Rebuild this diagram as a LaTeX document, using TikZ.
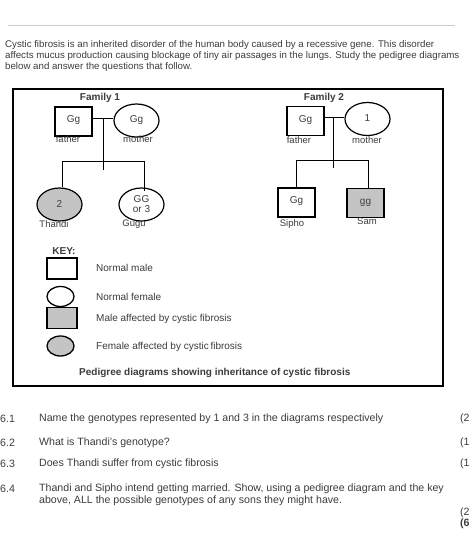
\documentclass[tikz,border=0pt]{standalone}
\usepackage{fontspec}
\setmainfont{Liberation Sans}
\usetikzlibrary{shapes.geometric}
\definecolor{txt}{HTML}{3C3C3C}
\definecolor{aff}{HTML}{C4C4C4}
\tikzset{
  male/.style={draw=black, line width=1.2pt, rectangle, minimum width=37pt, minimum height=29pt, inner sep=0pt, font=\fontsize{10}{11}\selectfont, text=txt},
  female/.style={draw=black, line width=1.2pt, ellipse, minimum width=45pt, minimum height=33pt, inner sep=0pt, font=\fontsize{10}{11}\selectfont, text=txt, align=center},
  keymale/.style={draw=black, line width=1.3pt, rectangle, minimum width=30pt, minimum height=21pt, inner sep=0pt},
  keyfemale/.style={draw=black, line width=1.3pt, ellipse, minimum width=27pt, minimum height=20pt, inner sep=0pt},
  affected/.style={fill=aff},
  link/.style={draw=black, line width=0.9pt},
  lbl/.style={font=\fontsize{9.5}{10}\selectfont, text=txt, inner sep=0pt},
  keytxt/.style={font=\fontsize{10}{11}\selectfont, text=txt, inner sep=0pt, anchor=west},
  para/.style={font=\fontsize{9.7}{11}\selectfont, text=txt, inner sep=0pt, anchor=west},
  qtxt/.style={font=\fontsize{10.6}{12}\selectfont, text=txt, inner sep=0pt, anchor=west},
  head/.style={font=\bfseries\fontsize{10}{11}\selectfont, text=txt, inner sep=0pt}
}
\begin{document}
\begin{tikzpicture}[x=1pt,y=-1pt]
\useasboundingbox[fill=white] (0,0) rectangle (474,549);
% top rule
\draw[line width=0.8pt, black!20] (8,25) -- (455,25);
% intro paragraph
\node[para] (p1) at (5,45) {Cystic fibrosis is an inherited disorder of the human body caused by a recessive gene. This disorder};
\node[para] (p2) at (5,56) {affects mucus production causing blockage of tiny air passages in the lungs. Study the pedigree diagrams};
\node[para] (p3) at (5,67) {below and answer the questions that follow.};
% frame
\draw[line width=2.2pt] (13,89) rectangle (443,386);
% Family 1
\node[head] (fam1) at (100,98) {Family 1};
\node[male] (f1f) at (73.5,121.5) {\raisebox{4pt}{Gg}};
\node[female] (f1m) at (136.5,120.5) {\raisebox{3pt}{Gg}};
\node[lbl] (f1fl) at (68,139) {father};
\node[lbl] (f1ml) at (138,139) {mother};
\coordinate (m1) at (103,118);
\coordinate (d1) at (103,170);
\coordinate (s1a) at (62,161);
\coordinate (s1b) at (144,161);
\node[female, affected] (thandi) at (59.5,204.5) {2};
\node[female] (gugu) at (141.5,204.5) {GG\\[-1pt]or 3};
\node[lbl] (thl) at (54,224) {Thandi};
\node[lbl] (gul) at (134,224) {Gugu};
\draw[link] (f1f.east |- m1) -- (f1m.west |- m1);
\draw[link] (m1) -- (d1);
\draw[link] (s1a) -- (s1b);
\draw[link] (s1a) -- (s1a |- thandi.north);
\draw[link] (s1b) -- ([yshift=-4pt]s1b |- gugu.north);
% Family 2
\node[head] (fam2) at (324,98) {Family 2};
\node[male] (f2f) at (305.5,121) {\raisebox{4pt}{Gg}};
\node[female] (f2m) at (367.5,119) {\raisebox{1pt}{1}};
\node[lbl] (f2fl) at (299,140) {father};
\node[lbl] (f2ml) at (367,140) {mother};
\coordinate (m2) at (333,117);
\coordinate (d2) at (333,168);
\coordinate (s2a) at (296,160);
\coordinate (s2b) at (368,160);
\node[male] (sipho) at (296.5,202.5) {\raisebox{5pt}{Gg}};
\node[male, affected] (sam) at (365.5,203) {gg};
\node[lbl] (sil) at (292,224) {Sipho};
\node[lbl] (sal) at (367,221) {Sam};
\draw[link] (f2f.east |- m2) -- (f2m.west |- m2);
\draw[link] (m2) -- (d2);
\draw[link] (s2a) -- (s2b);
\draw[link] (s2a) -- (s2a |- sipho.north);
\draw[link] (s2b) -- (s2b |- sam.north);
% Key
\node[head] (key) at (64,251) {KEY:};
\node[keymale] (k1) at (62,268.5) {};
\node[keyfemale] (k2) at (60.5,296.5) {};
\node[keymale, affected] (k3) at (62,318) {};
\node[keyfemale, affected] (k4) at (60.5,346) {};
\node[keytxt] (k1t) at (96,268) {Normal male};
\node[keytxt] (k2t) at (96,297) {Normal female};
\node[keytxt] (k3t) at (96,319) {Male affected by cystic fibrosis};
\node[keytxt] (k4t) at (96,347) {Female affected by cystic\,fibrosis};
\node[head, anchor=west] (cap) at (79,373) {Pedigree diagrams showing inheritance of cystic fibrosis};
% Questions
\node[qtxt] (q1n) at (0,419) {6.1};
\node[qtxt] (q1) at (39,419) {Name the genotypes represented by 1 and 3 in the diagrams respectively};
\node[qtxt] (q1m) at (460,419) {(2};
\node[qtxt] (q2n) at (0,443) {6.2};
\node[qtxt] (q2) at (39,443) {What is Thandi's genotype?};
\node[qtxt] (q2m) at (460,443) {(1};
\node[qtxt] (q3n) at (0,464) {6.3};
\node[qtxt] (q3) at (39,464) {Does Thandi suffer from cystic fibrosis};
\node[qtxt] (q3m) at (460,464) {(1};
\node[qtxt] (q4n) at (0,489) {6.4};
\node[qtxt] (q4a) at (39,489) {Thandi and Sipho intend getting married. Show, using a pedigree diagram and the key};
\node[qtxt] (q4b) at (39,501) {above, ALL the possible genotypes of any sons they might have.};
\node[qtxt] (q4m) at (460,513) {(2};
\node[qtxt, font=\bfseries\fontsize{10.6}{12}\selectfont] (tot) at (460,524) {(6};
\end{tikzpicture}
\end{document}
